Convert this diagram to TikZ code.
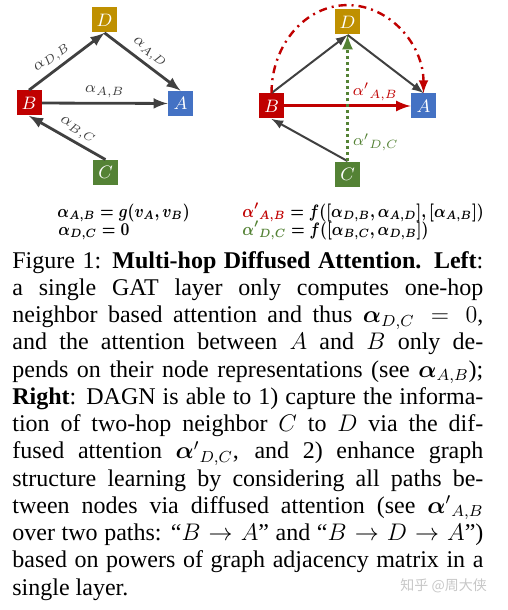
\documentclass[tikz,border=0pt]{standalone}
\usepackage{amsmath}
\usepackage{bm}
\usepackage{fontspec}
\setmainfont{Liberation Serif}
\newfontfamily\cjkfont{Noto Sans CJK SC}
\usepackage{xcolor}
\usetikzlibrary{arrows}
\usetikzlibrary{math}
\definecolor{myred}{RGB}{192,0,0}
\definecolor{myblue}{RGB}{68,114,196}
\definecolor{mygold}{RGB}{191,144,0}
\definecolor{mygreen}{RGB}{84,130,53}
\definecolor{mygray}{RGB}{64,64,64}

\tikzset{
vert/.style={fill=#1, text=white, minimum size=12.5pt, inner sep=0pt, font=\fontsize{9.5}{10}\selectfont},
edge/.style={-latex, draw=mygray, line width=1.4pt},
wlabel/.style={font=\fontsize{8.5}{9}\selectfont, inner sep=2pt},
formula/.style={font=\fontsize{9}{10}\selectfont\boldmath, inner sep=0pt, anchor=base west},
}

\begin{document}
\begin{tikzpicture}[x=0.5pt, y=-0.5pt]
\tikzmath{
\dx=243;
\dy=2;
\rx=76;
\ry=88;
\sq=0.83;
}
\useasboundingbox (0,0) rectangle (508,610);

%%%%%%%%%% left: one-hop attention
\node[vert=mygold] (D) at (104.5,20) {$D$};
\node[vert=myred] (B) at (29,103) {$B$};
\node[vert=myblue] (A) at (180.5,103.5) {$A$};
\node[vert=mygreen] (C) at (105.5,172.5) {$C$};

\draw[edge] (B.north) -- (D.south) node[wlabel, pos=0.4, sloped, above, text=mygray] {$\alpha_{D,B}$};
\draw[edge] (D.south) -- (A.north) node[wlabel, midway, sloped, above, text=mygray] {$\alpha_{A,D}$};
\draw[edge] (B) -- (A) node[wlabel, midway, above, text=mygray] {$\alpha_{A,B}$};
\draw[edge] (C.north) -- (B.south) node[wlabel, pos=0.44, sloped, above, text=mygray] {$\alpha_{B,C}$};

%%%%%%%%%% right: diffused attention
\begin{scope}[shift={(\dx,\dy)}]
\node[vert=mygold] (D2) at (104.5,20) {$D$};
\node[vert=myred] (B2) at (28.5,104) {$B$};
\node[vert=myblue] (A2) at (180.5,104) {$A$};
\node[vert=mygreen] (C2) at (104.5,172) {$C$};
\end{scope}

\draw[edge, line width=1pt] (B2.north) -- (D2.south);
\draw[edge, line width=1pt] (D2.south) -- (A2.north);
\draw[edge, line width=1pt] (C2.north) -- (B2.south);
\draw[-latex, draw=myred, line width=1.5pt] (B2) -- (A2) node[wlabel, pos=0.72, above, text=myred] {$\alpha'{}_{A,B}$};
\draw[-latex, draw=mygreen, line width=1.5pt, dash pattern=on 1.5pt off 1.5pt] (C2.north) -- (D2.south) node[wlabel, pos=0.15, right, text=mygreen] {$\alpha'{}_{D,C}$};
\draw[-latex, draw=myred, line width=1.2pt, dash pattern=on 4pt off 2.5pt on 1pt off 2.5pt] (B2.north) arc[start angle=180, end angle=360, x radius=\rx, y radius=\ry];

%%%%%%%%%% formulas
\node[formula] (f1) at (57,217) {\scalebox{\sq}[1]{$\alpha_{A,B} = g(v_A, v_B)$}};
\node[formula] (f2) at (58,235) {\scalebox{\sq}[1]{$\alpha_{D,C} = 0$}};
\node[formula] (f3) at (242,217) {\scalebox{\sq}[1]{$\textcolor{myred}{\alpha'{}_{A,B}} = f([\alpha_{D,B}, \alpha_{A,D}], [\alpha_{A,B}])$}};
\node[formula] (f4) at (242,235) {\scalebox{\sq}[1]{$\textcolor{mygreen}{\alpha'{}_{D,C}} = f([\alpha_{B,C}, \alpha_{D,B}])$}};

%%%%%%%%%% caption
\node[anchor=base west, inner sep=0pt, text width=235.5pt, align=justify, font=\fontsize{12}{13.625}\selectfont] (cap) at (12,268) {%
Figure 1: \textbf{Multi-hop Diffused Attention. Left}:\linebreak
a single GAT layer only computes one-hop\linebreak
neighbor based attention and thus $\bm{\alpha}_{D,C}=0$,\linebreak
and the attention between $A$ and $B$ only de-\linebreak
pends on their node representations (see $\bm{\alpha}_{A,B}$);\linebreak
\textbf{Right}: DAGN is able to 1) capture the informa-\linebreak
tion of two-hop neighbor $C$ to $D$ via the dif-\linebreak
fused attention $\bm{\alpha}'{}_{D,C}$, and 2) enhance graph\linebreak
structure learning by considering all paths be-\linebreak
tween nodes via diffused attention (see $\bm{\alpha}'{}_{A,B}$\linebreak
over two paths: ``$B\rightarrow A$'' and ``$B\rightarrow D\rightarrow A$'')\linebreak
based on powers of graph adjacency matrix in a\linebreak
single layer.};

\node[anchor=west, inner sep=0pt, text=black!22, font=\cjkfont\fontsize{7}{8}\selectfont] (wm) at (400,586) {知乎 @周大侠};
\end{tikzpicture}
\end{document}
